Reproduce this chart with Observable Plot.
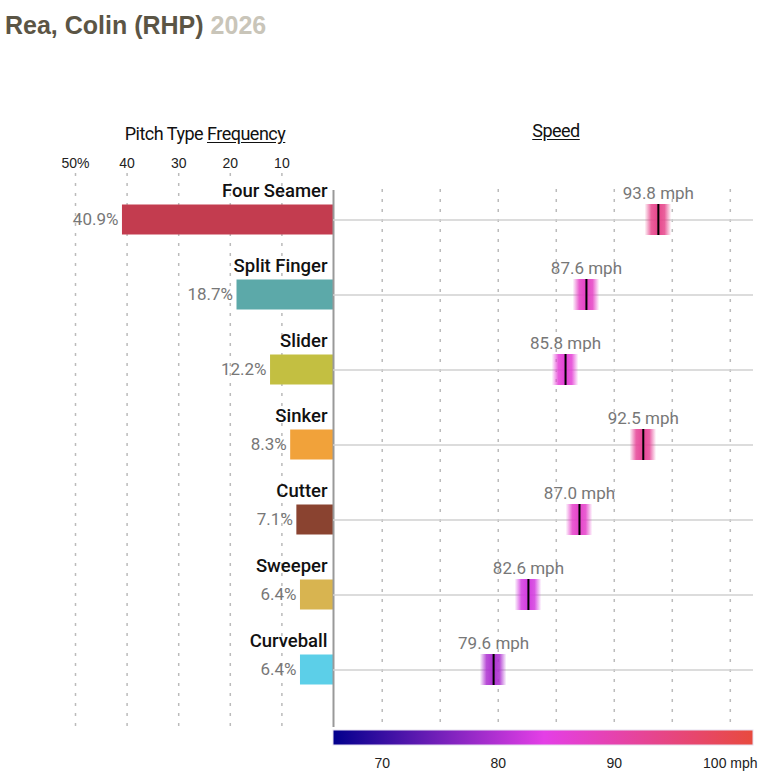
<!DOCTYPE html>
<html><head><meta charset="utf-8">
<script src="https://cdn.jsdelivr.net/npm/d3@7"></script>
<script src="https://cdn.jsdelivr.net/npm/@observablehq/plot@0.6"></script>
<style>
body{margin:0;background:#fff;}
#wrap{position:relative;width:768px;height:782px;overflow:hidden;font-family:Roboto,sans-serif;}
#wrap svg{position:absolute;left:0;top:0;}
.title{position:absolute;left:5px;top:11px;line-height:25px;font:bold 25px "Liberation Sans",Arial,sans-serif;color:#5b5545;white-space:nowrap;}
.title span{color:#c9c5b9;}
.hdr{position:absolute;font-family:Roboto,sans-serif;font-size:18px;line-height:18px;color:#111;white-space:nowrap;transform:translateX(-50%);letter-spacing:-0.5px;}
.hdr u{text-underline-offset:2px;}
</style></head>
<body>
<div id="wrap">
  <div class="title">Rea, Colin (RHP) <span>2026</span></div>
  <div class="hdr" style="left:205px;top:125px;">Pitch Type <u>Frequency</u></div>
  <div class="hdr" style="left:556px;top:122px;"><u>Speed</u></div>
</div>
<script>
const pitches = ["Four Seamer","Split Finger","Slider","Sinker","Cutter","Sweeper","Curveball"];
const freq = [40.9, 18.7, 12.2, 8.3, 7.1, 6.4, 6.4];
const speed = [93.8, 87.6, 85.8, 92.5, 87.0, 82.6, 79.6];
const pitchColors = ["#c33c4f","#5ca9a9","#c3bf41","#f1a23a","#8a4330","#d8b450","#5ccfe8"];
const freqTicks = [50, 40, 30, 20, 10];
const speedGrid = [70, 75, 80, 85, 90, 95, 100];
const speedTicks = [70, 80, 90, 100];
const speedDomain = [65.8, 102];
const rampStops = [65.8, 84, 102];
const rampColors = ["#02008c", "#e43fe6", "#e84a3e"];

const rows = pitches.map((p, i) => ({pitch: p, freq: freq[i], speed: speed[i], color: pitchColors[i], id: i}));
const rampScale = d3.scaleLinear().domain(rampStops).range(rampColors);
const yScale = {type: "band", domain: pitches, paddingInner: 0, paddingOuter: 0.1933, align: 0.31, axis: null};
const ns = "http://www.w3.org/2000/svg";
function gradient(id, stops) {
  const g = document.createElementNS(ns, "linearGradient");
  g.setAttribute("id", id);
  g.setAttribute("x1", "0"); g.setAttribute("x2", "1"); g.setAttribute("y1", "0"); g.setAttribute("y2", "0");
  for (const [off, col, op] of stops) {
    const s = document.createElementNS(ns, "stop");
    s.setAttribute("offset", off);
    s.setAttribute("stop-color", col);
    s.setAttribute("stop-opacity", op);
    g.appendChild(s);
  }
  return g;
}

const wrap = document.getElementById("wrap");

const left = Plot.plot({
  width: 340, height: 782, marginLeft: 75, marginRight: 7, marginTop: 173, marginBottom: 55,
  style: {background: "transparent", fontFamily: "'Liberation Sans', Arial, sans-serif", fontSize: "14px", color: "#222", overflow: "visible"},
  x: {domain: [50, 0], axis: "top", ticks: freqTicks, tickSize: 0, tickPadding: 6, tickFormat: d => d === 50 ? "50%" : String(d), label: null},
  y: yScale,
  color: {type: "identity"},
  marks: [
    Plot.ruleX(freqTicks, {x: d => d, stroke: "#bbb", strokeDasharray: "3,7", strokeWidth: 1.5}),
    Plot.barX(rows, {x1: 0, x2: "freq", y: "pitch", fill: "color", insetTop: 22.5, insetBottom: 22.5}),
    Plot.ruleX([0], {stroke: "#999", strokeWidth: 2, insetTop: 17}),
    Plot.text(rows, {x: 0, y: "pitch", text: "pitch", textAnchor: "end", dx: -6, dy: -29, fontSize: 18.5, fontWeight: 500, fill: "#111", fontFamily: "Roboto", letterSpacing: "-0.3px"}),
    Plot.text(rows, {x: "freq", y: "pitch", text: d => d.freq.toFixed(1) + "%", textAnchor: "end", dx: -4, fontSize: 17, fill: "#777", fontFamily: "Roboto", letterSpacing: "-0.2px"})
  ]
});
wrap.appendChild(left);

const right = Plot.plot({
  width: 768, height: 782, marginLeft: 333, marginRight: 15, marginTop: 173, marginBottom: 55,
  style: {background: "transparent", fontFamily: "Roboto, sans-serif", overflow: "visible"},
  x: {domain: speedDomain, axis: null},
  y: yScale,
  color: {type: "identity"},
  marks: [
    Plot.ruleX(speedGrid, {x: d => d, stroke: "#bbb", strokeDasharray: "3,7", strokeWidth: 1.5, insetTop: 16}),
    Plot.ruleY(rows, {y: "pitch", stroke: "#d0d0d0", strokeWidth: 1.5}),
    Plot.barX(rows, {x1: d => d.speed - 1.15, x2: d => d.speed + 1.15, y: "pitch", fill: d => `url(#mk${d.id})`, insetTop: 22, insetBottom: 22}),
    Plot.tickX(rows, {x: "speed", y: "pitch", stroke: "#000", strokeWidth: 2, insetTop: 22, insetBottom: 22}),
    Plot.text(rows, {x: "speed", y: "pitch", text: d => d.speed.toFixed(1) + " mph", dy: -26, fontSize: 17, fill: "#777", fontFamily: "Roboto", letterSpacing: "-0.2px"})
  ]
});
const defs = document.createElementNS(ns, "defs");
rows.forEach(r => {
  const c = rampScale(r.speed);
  defs.appendChild(gradient("mk" + r.id, [[0, c, 0], [0.25, c, 0.85], [0.5, c, 1], [0.75, c, 0.85], [1, c, 0]]));
});
right.insertBefore(defs, right.firstChild);
wrap.appendChild(right);

const bar = Plot.plot({
  width: 768, height: 57, marginLeft: 333, marginRight: 15, marginTop: 5, marginBottom: 37,
  style: {background: "transparent", fontFamily: "'Liberation Sans', Arial, sans-serif", fontSize: "14px", color: "#222", overflow: "visible"},
  x: {domain: speedDomain, axis: "bottom", ticks: speedTicks, tickSize: 0, tickPadding: 13, tickFormat: d => d === 100 ? "100 mph" : String(d), label: null},
  marks: [
    Plot.rect([{x1: speedDomain[0], x2: speedDomain[1]}], {x1: "x1", x2: "x2", fill: "url(#ramp)", stroke: "#e6e0f0", strokeWidth: 1})
  ]
});
const defs2 = document.createElementNS(ns, "defs");
const span = speedDomain[1] - speedDomain[0];
defs2.appendChild(gradient("ramp", rampStops.map((v, i) => [(v - speedDomain[0]) / span, rampColors[i], 1])));
bar.insertBefore(defs2, bar.firstChild);
bar.style.top = "725px";
wrap.appendChild(bar);
</script>
</body></html>
